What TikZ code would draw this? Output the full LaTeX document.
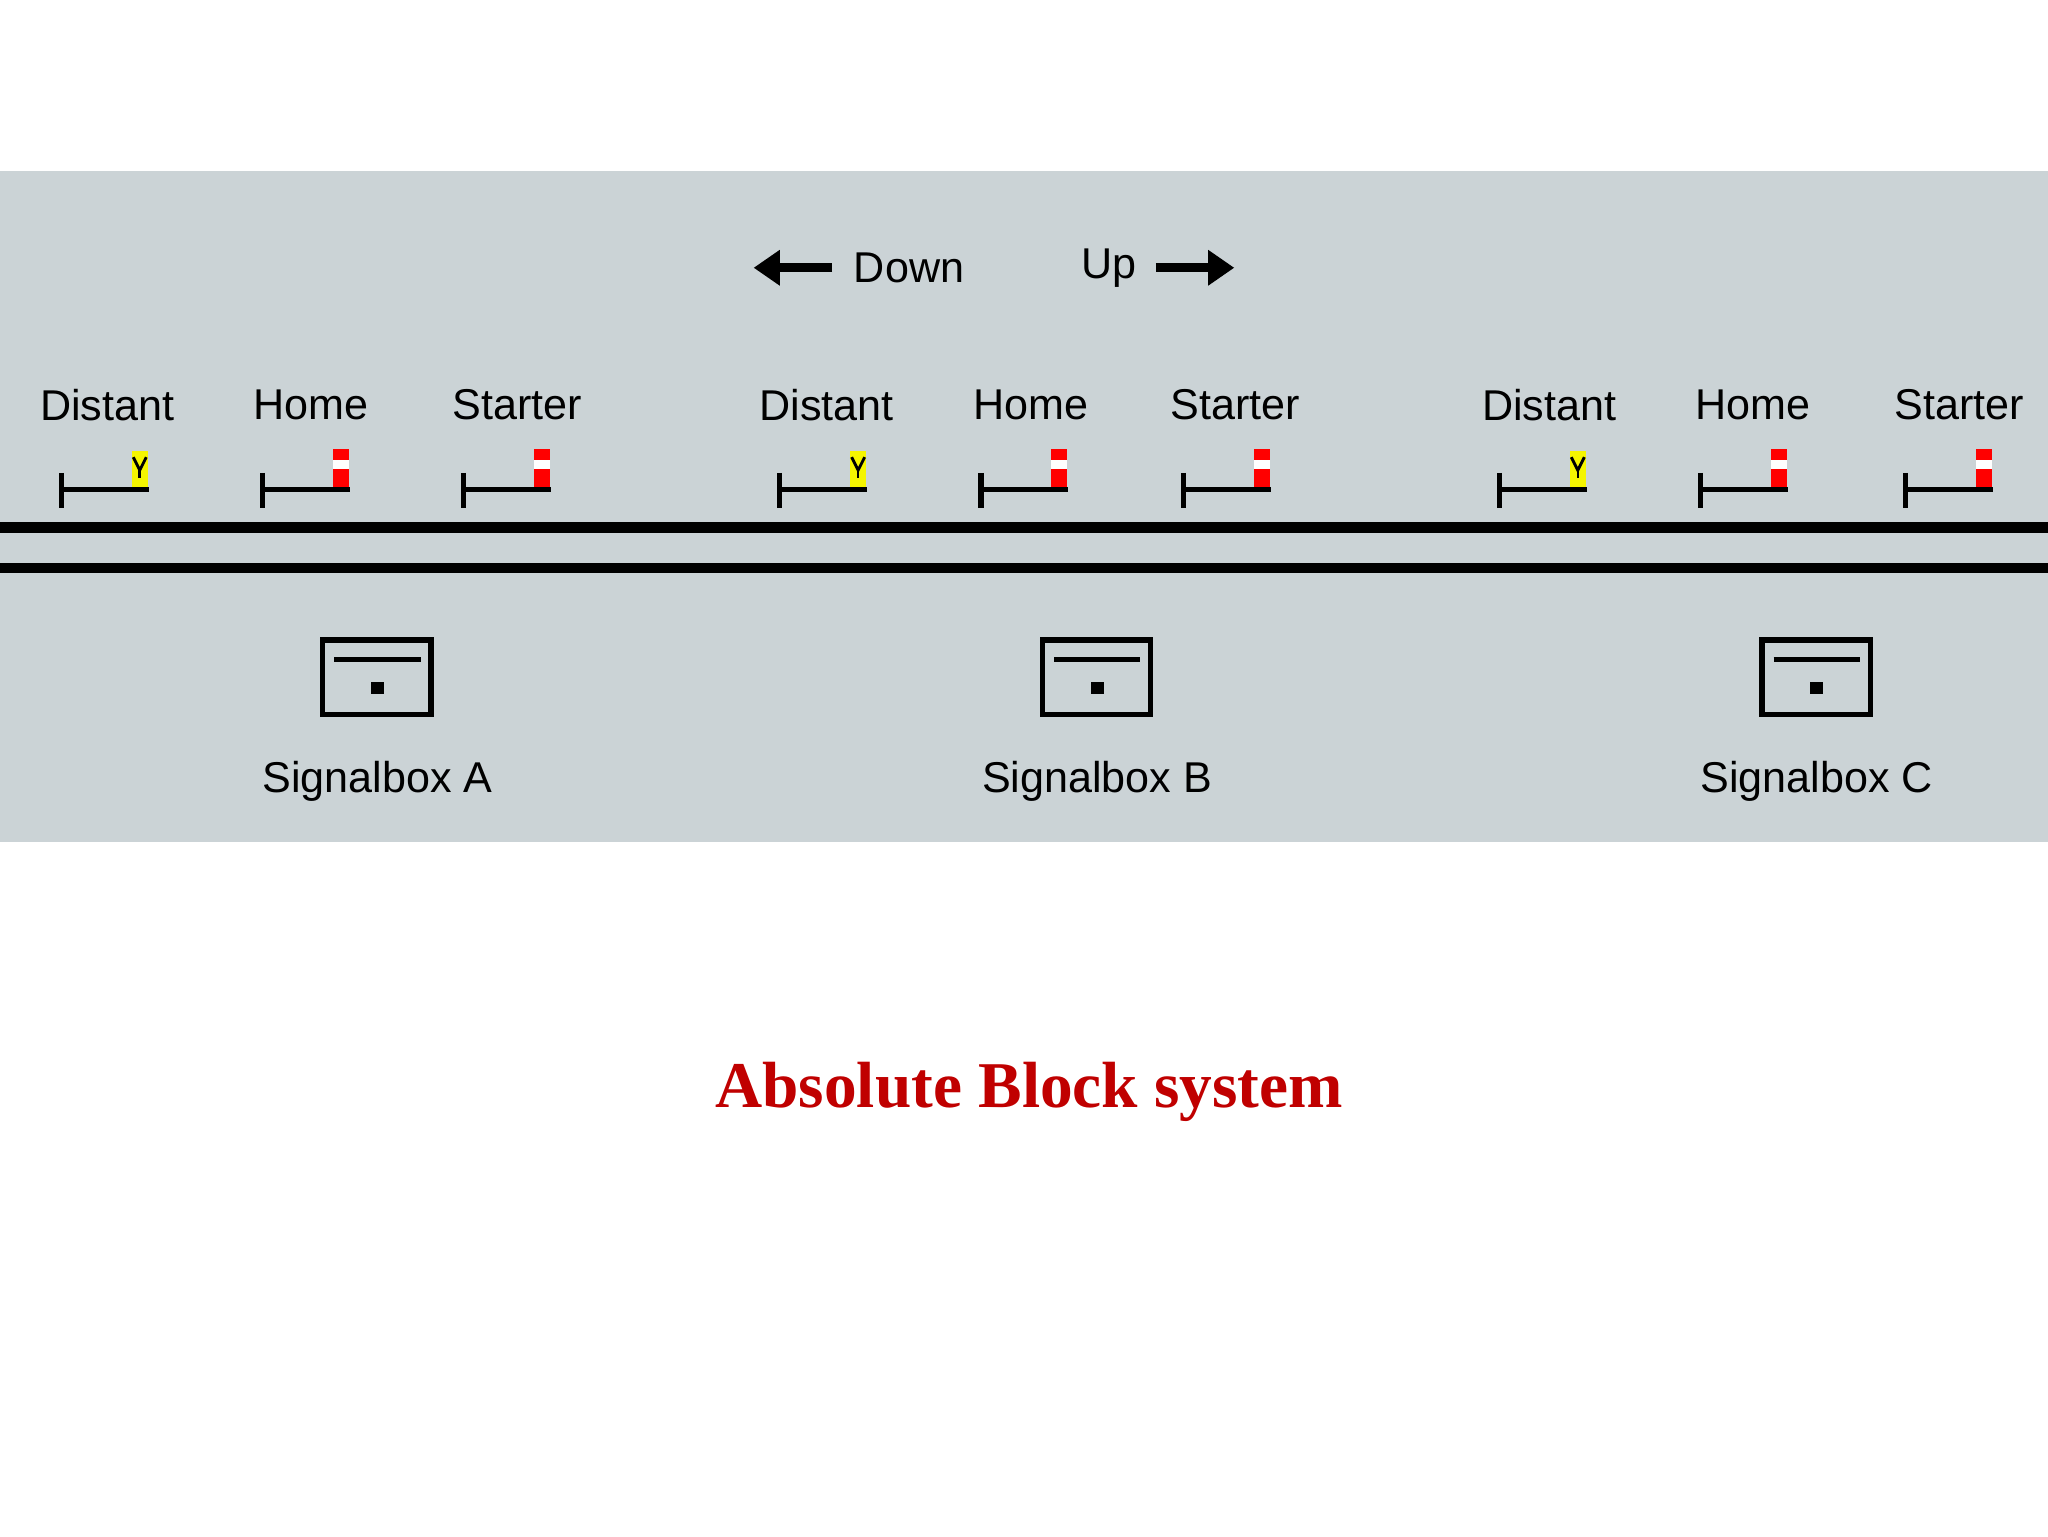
\documentclass[tikz,border=0pt]{standalone}
\usepackage{fontspec}
\setmainfont{Liberation Serif}
\newfontfamily\lblfont{Liberation Sans}
\usetikzlibrary{arrows.meta}
\definecolor{bandgrey}{HTML}{CBD3D6}
\definecolor{titlered}{HTML}{C00000}
\definecolor{sigyellow}{HTML}{F5F500}
\tikzset{
  lbl/.style={font=\lblfont\fontsize{33}{36}\selectfont, inner sep=0pt, anchor=center},
  rail/.style={line width=8pt},
  post/.style={line width=4pt},
  boxline/.style={line width=4pt},
}
\begin{document}
\begin{tikzpicture}[x=1pt,y=-1pt]
\useasboundingbox (0,0) rectangle (1568,1176);
\fill[white] (0,0) rectangle (1568,1176);
\fill[bandgrey] (0,131) rectangle (1568,645);
% direction arrows
\node[lbl] (down) at (696,205) {Down};
\node[lbl] (up) at (849,205) {Up};
\coordinate (dl1) at (637,205); \coordinate (dl2) at (577,205);
\coordinate (ur1) at (885,205); \coordinate (ur2) at (945,205);
\draw[line width=7pt,-{Triangle[length=20pt,width=26pt]}] (dl1) -- (dl2);
\draw[line width=7pt,-{Triangle[length=20pt,width=26pt]}] (ur1) -- (ur2);
% labels
\foreach \x/\t [count=\i] in {82/Distant,238/Home,396/Starter,633/Distant,789/Home,946/Starter,1186/Distant,1342/Home,1500/Starter}
  \node[lbl] (l\i) at (\x,310) {\t};
% distant signals
\foreach \p in {47,597,1148}{
  \draw[post] (\p,362) -- (\p,389);
  \draw[post] (\p,375) -- (\p+67,375);
  \fill[sigyellow] (\p+54,345) rectangle (\p+66,373);
  \draw[line width=2.2pt] (\p+55,350) -- (\p+60,360) -- (\p+65,350);
  \draw[line width=2pt] (\p+60,358) -- (\p+60,366);
}
% home/starter signals
\foreach \p in {201,355,751,906,1302,1459}{
  \draw[post] (\p,362) -- (\p,389);
  \draw[post] (\p,375) -- (\p+67,375);
  \fill[red] (\p+54,344) rectangle (\p+66,373);
  \fill[white] (\p+54,352) rectangle (\p+66,359);
}
% rails
\coordinate (r1a) at (0,404); \coordinate (r1b) at (1568,404);
\coordinate (r2a) at (0,435); \coordinate (r2b) at (1568,435);
\draw[rail] (r1a) -- (r1b);
\draw[rail] (r2a) -- (r2b);
% signal boxes
\foreach \c/\n in {289/A,840/B,1391/C}{
  \draw[boxline] (\c-42,490) rectangle (\c+41,547);
  \draw[boxline] (\c-33,505) -- (\c+33,505);
  \fill (\c-5,522) rectangle (\c+5,531);
  \node[lbl] (sb\n) at (\c,598) {Signalbox \n};
}
\node[font=\fontsize{50}{56}\selectfont\bfseries, text=titlered, inner sep=0pt] (title) at (788,836) {Absolute Block system};
\end{tikzpicture}
\end{document}
